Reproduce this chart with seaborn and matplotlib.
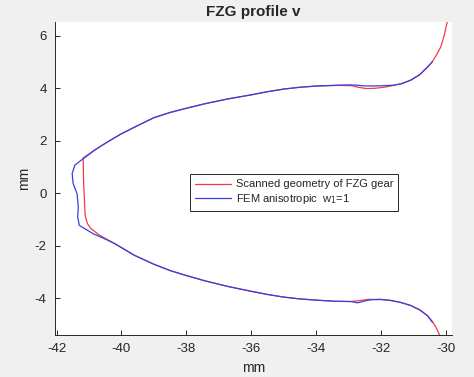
import matplotlib
matplotlib.use("Agg")
import matplotlib.pyplot as plt
import seaborn as sns
import pandas as pd

# profile points, traced from the top tip to the bottom tip
scan_x = [-29.95, -30.05, -30.15, -30.28, -30.41, -30.56, -30.8, -31.08, -31.35, -31.6,
          -31.9, -32.2, -32.45, -32.7, -32.9, -33.3, -33.95, -34.5, -35.0, -35.5,
          -36.0, -36.7, -37.4, -38.0, -38.5, -39.0, -39.5, -40.0, -40.4, -40.8,
          -41.18, -41.17, -41.14, -41.12, -41.05, -40.95, -40.67, -40.2, -39.6, -39.0,
          -38.5, -38.0, -37.4, -36.7, -36.0, -35.5, -35.0, -34.5, -33.95, -33.4,
          -32.92, -32.7, -32.4, -32.0, -31.69, -31.4, -31.08, -30.8, -30.56, -30.4,
          -30.28, -30.15]
scan_y = [6.55, 6.0, 5.58, 5.28, 5.02, 4.80, 4.52, 4.31, 4.18, 4.11,
          4.04, 4.00, 3.99, 4.04, 4.10, 4.11, 4.09, 4.04, 3.97, 3.87,
          3.75, 3.60, 3.42, 3.24, 3.08, 2.88, 2.58, 2.27, 1.98, 1.67,
          1.35, 0.5, -0.3, -0.85, -1.15, -1.33, -1.60, -1.92, -2.36, -2.70,
          -2.94, -3.13, -3.34, -3.55, -3.73, -3.85, -3.95, -4.02, -4.07, -4.11,
          -4.12, -4.09, -4.04, -4.04, -4.08, -4.15, -4.27, -4.44, -4.66, -4.9,
          -5.15, -5.5]

fem_x = [-30.41, -30.56, -30.8, -31.08, -31.35, -31.6, -31.9, -32.2, -32.5, -32.75,
         -33.0, -33.3, -33.95, -34.5, -35.0, -35.5, -36.0, -36.7, -37.4, -38.0,
         -38.5, -39.0, -39.5, -40.0, -40.4, -40.8, -41.2, -41.44, -41.52, -41.49,
         -41.37, -41.33, -41.35, -41.30, -40.87, -40.5, -40.2, -39.6, -39.0, -38.5,
         -38.0, -37.4, -36.7, -36.0, -35.5, -35.0, -34.5, -33.95, -33.4, -32.92,
         -32.72, -32.5, -32.3, -32.0, -31.69, -31.4, -31.08, -30.8, -30.56, -30.41]
fem_y = [5.01, 4.82, 4.52, 4.31, 4.18, 4.12, 4.10, 4.09, 4.09, 4.12,
         4.13, 4.12, 4.09, 4.04, 3.97, 3.87, 3.75, 3.60, 3.42, 3.24,
         3.08, 2.88, 2.58, 2.27, 1.98, 1.67, 1.30, 1.07, 0.75, 0.37,
         -0.01, -0.52, -0.9, -1.22, -1.54, -1.74, -1.92, -2.36, -2.70, -2.94,
         -3.13, -3.34, -3.55, -3.73, -3.85, -3.95, -4.02, -4.07, -4.11, -4.12,
         -4.17, -4.10, -4.05, -4.04, -4.08, -4.15, -4.27, -4.44, -4.66, -4.91]

labels = ["Scanned geometry of FZG gear", "FEM anisotropic  w$_1$=1"]
x_ticks = [-42, -40, -38, -36, -34, -32, -30]
y_ticks = [-4, -2, 0, 2, 4, 6]

df = pd.concat([
    pd.DataFrame({"x": scan_x, "y": scan_y, "series": labels[0]}),
    pd.DataFrame({"x": fem_x, "y": fem_y, "series": labels[1]}),
], ignore_index=True)

sns.set_theme(style="ticks")
plt.rcParams["font.family"] = ["Liberation Sans", "DejaVu Sans"]
plt.rcParams["axes.unicode_minus"] = False

fig = plt.figure(figsize=(4.74, 3.77), dpi=100, facecolor="#f0f0f0")
ax = fig.add_axes([0.116, 0.111, 0.838, 0.831])
ax.set_facecolor("white")

sns.lineplot(
    data=df, x="x", y="y", hue="series", units="series", estimator=None,
    sort=False, palette={labels[0]: "#f03c46", labels[1]: "#3c3ce6"},
    linewidth=0.9, ax=ax,
)

ax.set_xlim(-42.05, -29.8)
ax.set_ylim(-5.4, 6.53)
ax.set_xticks(x_ticks)
ax.set_yticks(y_ticks)
ax.tick_params(direction="in", length=3.5, width=0.7, colors="#262626",
               labelsize=9.5, pad=6)
for s in ["top", "right"]:
    ax.spines[s].set_visible(False)
for s in ["left", "bottom"]:
    ax.spines[s].set_color("#262626")
    ax.spines[s].set_linewidth(0.7)

ax.set_xlabel("mm", fontsize=10, color="#262626", labelpad=4)
ax.set_ylabel("mm", fontsize=10, color="#262626", labelpad=3)
ax.set_title("FZG profile v", fontsize=11, fontweight="bold", pad=4)

handles, labs = ax.get_legend_handles_labels()
leg = ax.legend(handles=handles, labels=labs, loc="upper left",
                bbox_to_anchor=(0.34, 0.513), frameon=True, fancybox=False,
                framealpha=1, edgecolor="#262626", fontsize=8,
                handlelength=3.2, borderpad=0.45, labelspacing=0.2,
                handletextpad=0.45, borderaxespad=0)
leg.get_frame().set_linewidth(0.7)

fig.savefig("out.png", dpi=100, facecolor=fig.get_facecolor())
